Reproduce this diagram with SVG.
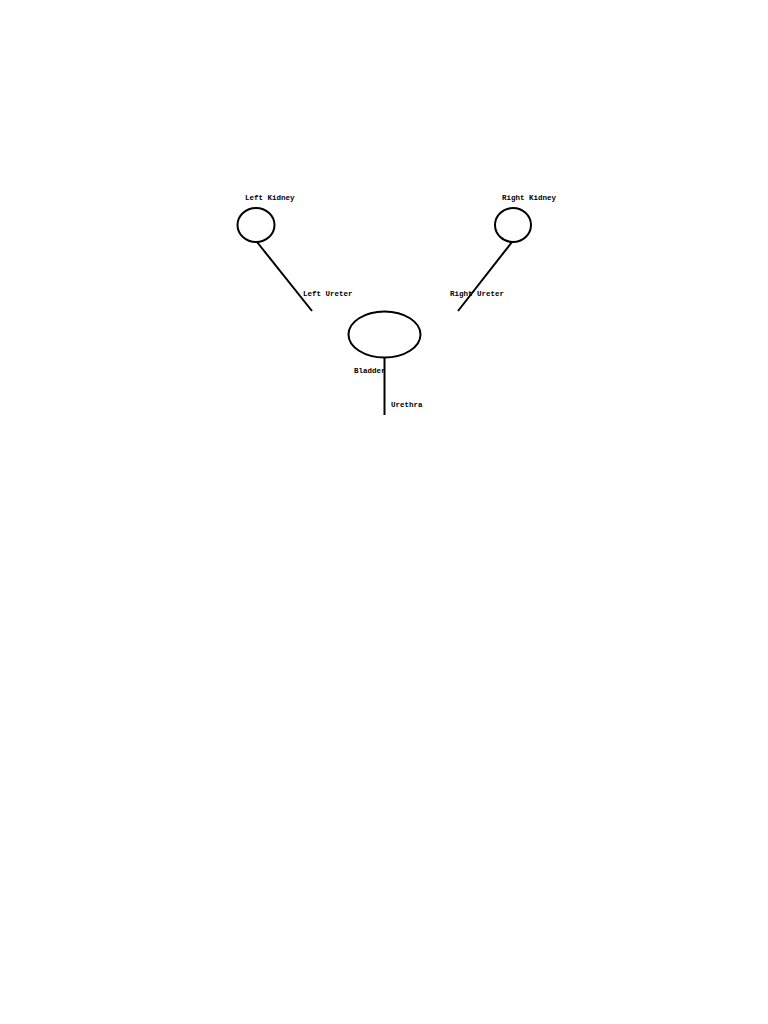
<svg xmlns="http://www.w3.org/2000/svg" width="768" height="1024" viewBox="0 0 768 1024">
<style>
.shape{fill:none;stroke:#000;stroke-width:2}
.lbl{font-family:"Liberation Mono","DejaVu Sans Mono",monospace;font-size:7.5px;font-weight:bold;fill:#000}
</style>
<rect width="768" height="1024" fill="#fff"/>
<g id="connectors">
<line class="shape" x1="257" y1="242" x2="312" y2="311"/>
<line class="shape" x1="512" y1="242" x2="458" y2="311"/>
<line class="shape" x1="384.5" y1="358" x2="384.5" y2="415"/>
</g>
<g id="left-kidney">
<ellipse class="shape" cx="256" cy="225" rx="18.5" ry="17"/>
<text class="lbl" x="245" y="200">Left Kidney</text>
</g>
<g id="right-kidney">
<ellipse class="shape" cx="513" cy="225" rx="18" ry="17"/>
<text class="lbl" x="502" y="200">Right Kidney</text>
</g>
<g id="left-ureter">
<text class="lbl" x="303" y="296">Left Ureter</text>
</g>
<g id="right-ureter">
<text class="lbl" x="450" y="296">Right Ureter</text>
</g>
<g id="bladder">
<ellipse class="shape" cx="384.5" cy="334.5" rx="36" ry="23"/>
<text class="lbl" x="354" y="373">Bladder</text>
</g>
<g id="urethra">
<text class="lbl" x="391" y="407">Urethra</text>
</g>
</svg>
